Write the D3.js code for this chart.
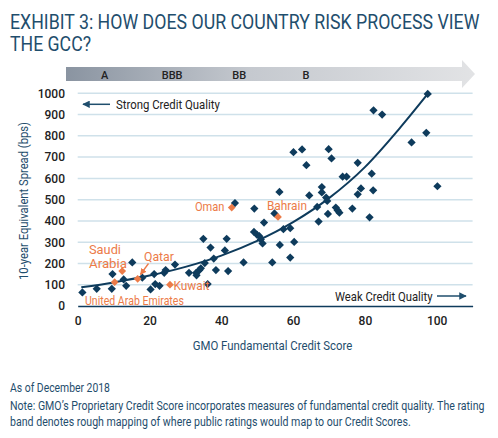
<!DOCTYPE html>
<html><head><meta charset="utf-8">
<script src="https://cdn.jsdelivr.net/npm/d3@7"></script>
<style>
html,body{margin:0;padding:0;background:#fff;}
svg text{font-family:Roboto,"Noto Sans",sans-serif;}
</style></head>
<body><svg id="c" width="498" height="438"></svg>
<script>
// ---- data ----
const otherX = [1.3,5.3,9.5,9.7,12.8,13.5,15.2,18.0,20.3,21.3,21.6,22.8,24.1,24.5,27.1,31.0,33.0,33.1,33.9,34.3,35.0,35.4,36.2,37.0,37.9,38.5,41.0,41.5,41.9,43.8,46.2,
  49.2,49.1,49.9,50.6,51.0,51.5,51.9,54.2,54.8,56.2,56.3,57.3,59.2,59.2,60.3,60.1,62.5,63.7,64.5,66.7,67.1,68.0,68.0,69.2,69.5,69.7,69.9,70.7,71.9,72.4,72.9,73.8,74.9,76.5,78.0,78.0,78.9,81.3,81.9,82.3,82.4,84.8,93.0,97.1,97.5,100.2];
const otherY = [64,81,81,150,125,95,205,133,78,150,103,95,156,169,195,156,156,144,169,177,316,202,103,275,223,169,261,316,164,484,205,
  458,348,336,328,313,294,392,205,435,536,287,361,366,228,301,723,736,662,520,466,397,559,534,510,494,433,737,694,463,450,439,608,608,458,673,525,553,417,622,544,920,900,769,814,997,563];
const gccNames = ["Saudi Arabia","United Arab Emirates","Qatar","Kuwait","Oman","Bahrain"];
const gccX = [12.4,10.3,16.7,25.7,42.9,55.8];
const gccY = [164,112,128,100,463,419];
const trendX = [1,10,20,30,40,50,60,70,80,90,97.5];
const trendY = [88,111,143,184,237,306,394,507,653,842,997];
const xTicks = [0,20,40,60,80,100];
const yTicks = [0,100,200,300,400,500,600,700,800,900,1000];
const ratingLabels = ["A","BBB","BB","B"];
const ratingPos = [7.5,26.3,45,63.6];

// ---- drawing ----
const svg = d3.select("#c");
const navy = "#0e3b5c", orange = "#ec7b48", teal = "#1f4e6d";
const x = d3.scaleLinear().domain([0,110]).range([77.7,472.6]);
const y = d3.scaleLinear().domain([0,1000]).range([306,93.3]);

// text squeezed horizontally to a target width (condensed look)
function ctext(str, tx, ty, size, w, fill, opts){
  opts = opts || {};
  const g = svg.append("g");
  const t = g.append("text").attr("x",0).attr("y",0).attr("font-size",size).attr("fill",fill)
    .attr("font-weight",opts.weight||400).text(str);
  const nat = t.node().getComputedTextLength();
  const s = w / nat;
  g.attr("transform",`translate(${tx},${ty})${opts.rotate?" rotate(-90)":""} scale(${s},1)`);
  if (opts.anchor) t.attr("text-anchor",opts.anchor);
  return t;
}

// title
ctext("EXHIBIT 3: HOW DOES OUR COUNTRY RISK PROCESS VIEW",10,29,19.5,470,teal);
ctext("THE GCC?",10,50.7,19.5,81,teal);

// rating band
const defs = svg.append("defs");
const g = defs.append("linearGradient").attr("id","band").attr("x1","0").attr("x2","1");
g.append("stop").attr("offset","0").attr("stop-color","#8a94a1");
g.append("stop").attr("offset","0.45").attr("stop-color","#c5c9cf");
g.append("stop").attr("offset","1").attr("stop-color","#e2e3e5");
svg.append("path").attr("fill","url(#band)")
  .attr("d","M66,67 L462,67 L462,60 L475,74 L462,88 L462,81 L66,81 Z");
svg.selectAll(".rl").data(ratingLabels).join("text")
  .attr("x",(d,i)=>x(ratingPos[i])).attr("y",78.5).attr("text-anchor","middle")
  .attr("font-size",11).attr("font-weight",500).attr("fill","#222").text(d=>d);

// grid
svg.append("g").selectAll("line").data(yTicks.filter(d=>d>0)).join("line")
  .attr("x1",x(0)).attr("x2",x(110)).attr("y1",d=>y(d)).attr("y2",d=>y(d))
  .attr("stroke","#cfe1ea").attr("stroke-width",1.5);

// axes
const xa = svg.append("g").attr("transform","translate(0,306)")
  .call(d3.axisBottom(x).tickValues(xTicks).tickSize(0).tickPadding(10));
xa.select(".domain").attr("stroke",navy).attr("stroke-width",1.5);
xa.selectAll("text").attr("font-size",12).attr("font-weight",500).attr("fill","#222").attr("font-family","Roboto");
const ya = svg.append("g").attr("transform","translate(65,0)")
  .call(d3.axisLeft(y).tickValues(yTicks).tickFormat(d3.format("d")).tickSize(0).tickPadding(0));
ya.select(".domain").remove();
ya.selectAll("text").attr("font-size",12).attr("font-weight",500).attr("fill","#222").attr("font-family","Roboto");

// axis titles
{
  const gg = svg.append("g");
  const t = gg.append("text").attr("font-size",13.5).attr("fill",teal).attr("text-anchor","middle")
    .text("10-year  Equivalent  Spread (bps)");
  const nat = t.node().getComputedTextLength();
  gg.attr("transform",`translate(28,201) rotate(-90) scale(${158/nat},1)`);
}
ctext("GMO Fundamental  Credit Score",192.7,350,13.5,159.6,teal);

// quality annotations
defs.append("marker").attr("id","ah").attr("viewBox","0 0 10 10").attr("refX",9).attr("refY",5)
  .attr("markerWidth",6).attr("markerHeight",5).attr("orient","auto")
  .append("path").attr("d","M0,0 L10,5 L0,10 Z").attr("fill",teal);
svg.append("line").attr("x1",110).attr("x2",83).attr("y1",104.3).attr("y2",104.3)
  .attr("stroke",teal).attr("stroke-width",1.5).attr("marker-end","url(#ah)");
ctext("Strong Credit  Quality",116,108.5,12.5,104,"#222");
ctext("Weak Credit Quality",335,300.5,12.5,97.7,"#222");
svg.append("line").attr("x1",437).attr("x2",466).attr("y1",296).attr("y2",296)
  .attr("stroke",teal).attr("stroke-width",1.5).attr("marker-end","url(#ah)");

// trend line
svg.append("path").datum(trendX.map((v,i)=>[v,trendY[i]]))
  .attr("fill","none").attr("stroke",navy).attr("stroke-width",2)
  .attr("d",d3.line().x(d=>x(d[0])).y(d=>y(d[1])).curve(d3.curveMonotoneX));

// points
const diamond = d3.symbol(d3.symbolSquare,34);
svg.append("g").selectAll("path").data(otherX.map((v,i)=>[v,otherY[i]])).join("path")
  .attr("d",diamond).attr("fill",navy)
  .attr("transform",d=>`translate(${x(d[0])},${y(d[1])}) rotate(45)`);
svg.append("g").selectAll("path").data(gccX.map((v,i)=>[v,gccY[i]])).join("path")
  .attr("d",d3.symbol(d3.symbolSquare,30)).attr("fill",orange)
  .attr("transform",d=>`translate(${x(d[0])},${y(d[1])}) rotate(45)`);

// GCC labels
ctext("Saudi",89,253.5,12.5,32,orange);
ctext("Arabia",89,268,12.5,38,orange);
ctext("Qatar",144,260.5,12.5,30,orange);
ctext("Kuwait",173.5,290,12.5,36,orange);
ctext("Oman",195,210.5,12.5,29.5,orange);
ctext("Bahrain",267,209.5,12.5,40,orange);
ctext("United Arab Emirates",85,304.5,12.5,99,orange);
defs.append("marker").attr("id","oh").attr("viewBox","0 0 10 10").attr("refX",9).attr("refY",5)
  .attr("markerWidth",5).attr("markerHeight",5).attr("orient","auto")
  .append("path").attr("d","M0,0 L10,5 L0,10 Z").attr("fill",orange);
svg.append("line").attr("x1",148.5).attr("y1",263.5).attr("x2",140.5).attr("y2",274.5)
  .attr("stroke",orange).attr("stroke-width",1.3).attr("marker-end","url(#oh)");

// notes
ctext("As of December 2018",10,391.5,12,100,teal);
ctext("Note: GMO’s Proprietary Credit Score incorporates measures of fundamental credit quality. The rating",10,410,12,475,teal);
ctext("band denotes rough mapping of where public ratings would map to our Credit Scores.",10,426,12,401,teal);
</script></body></html>
